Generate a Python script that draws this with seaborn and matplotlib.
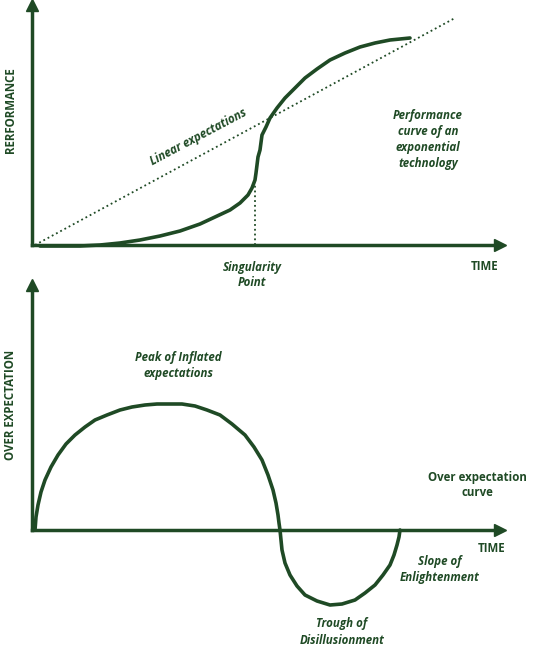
import matplotlib
matplotlib.use("Agg")
import matplotlib.pyplot as plt
import seaborn as sns
import pandas as pd

sns.set_style("white")
plt.rcParams['font.family'] = ['Open Sans', 'DejaVu Sans']

GREEN = "#1f4a25"

# top panel: performance curve, x from y-axis, y above x-axis (pixel units)
perf_x = [8, 28, 48, 68, 88, 108, 128, 148, 168, 183, 198, 208, 216, 220, 223, 224,
          225, 226, 228, 230, 234, 238, 245, 253, 263, 273, 285, 298, 313, 328, 343,
          358, 368, 378]
perf_y = [-1, -1, -1, 0, 2, 5, 9, 14, 21, 28, 35, 42, 50, 57, 65, 72, 80, 88, 95,
          110, 118, 127, 137, 147, 157, 167, 176, 185, 192, 198, 202, 205, 206, 207]
linear_x = [3, 423]
linear_y = [0, 227]
sing_x = [223, 223]
sing_y = [0, 60]

# bottom panel: over expectation curve
over_x = [3, 4, 6, 9, 13, 19, 26, 34, 43, 53, 63, 75, 88, 100, 113, 125, 138, 150,
          163, 175, 188, 200, 213, 222, 230, 236, 241, 244, 246, 247, 248,
          249, 250, 253, 258, 265, 273, 285, 298, 310, 323, 333, 343, 351, 358, 362,
          365, 367, 368]
over_y = [0, 13, 25, 38, 50, 63, 75, 86, 95, 103, 110, 115, 120, 123, 125, 126, 126,
          126, 124, 120, 115, 106, 95, 83, 70, 55, 40, 27, 15, 7, 0,
          -10, -20, -33, -45, -56, -65, -71, -75, -74, -70, -63, -55, -45, -35, -25,
          -15, -7, 0]

fig = plt.figure(figsize=(5.39, 6.48), dpi=100)
ax1 = fig.add_axes([32/539, (648-245)/648, 468/539, 240/648])
ax2 = fig.add_axes([32/539, (648-530)/648, 468/539, 245/648])

for ax in (ax1, ax2):
    ax.set_xlim(0, 468)
    ax.set_xticks([])
    ax.set_yticks([])
    for s in ("top", "right"):
        ax.spines[s].set_visible(False)
    for s in ("left", "bottom"):
        ax.spines[s].set_color(GREEN)
        ax.spines[s].set_linewidth(2.5)
    ax.plot(1, 0, ">", color=GREEN, ms=9, transform=ax.transAxes, clip_on=False)
    ax.plot(0, 1, "^", color=GREEN, ms=9, transform=ax.transAxes, clip_on=False)
ax1.set_ylim(0, 240)
ax2.set_ylim(0, 245)

perf = pd.DataFrame({"x": perf_x, "y": perf_y})
sns.lineplot(data=perf, x="x", y="y", sort=False, color=GREEN, lw=2.6, ax=ax1,
             solid_joinstyle="round", solid_capstyle="round")
ax1.plot(linear_x, linear_y, ":", color=GREEN, lw=1.3)
ax1.plot(sing_x, sing_y, ":", color=GREEN, lw=1.3)
over = pd.DataFrame({"x": over_x, "y": over_y})
sns.lineplot(data=over, x="x", y="y", sort=False, color=GREEN, lw=2.6, ax=ax2,
             solid_joinstyle="round", solid_capstyle="round")
for line in ax1.lines + ax2.lines:
    line.set_clip_on(False)
ax1.set_xlabel(""); ax1.set_ylabel("")
ax2.set_xlabel(""); ax2.set_ylabel("")

kw = dict(color=GREEN, fontsize=8.3, fontweight="bold", ha="center", va="center",
          transform=fig.transFigure)

def t(px, py, s, **k):
    fig.text(px/539, 1 - py/648, s, **{**kw, **k})

t(11, 110, "RERFORMANCE", rotation=90)
t(485, 266, "TIME")
t(198, 137, "Linear expectations", rotation=28, style="italic")
t(428, 140, "Performance\ncurve of an\nexponential\ntechnology", style="italic", linespacing=1.3)
t(252, 275, "Singularity\nPoint", style="italic", linespacing=1.3)
t(11, 405, "OVER EXPECTATION", rotation=90)
t(178, 366, "Peak of Inflated\nexpectations", style="italic", linespacing=1.3)
t(477, 485, "Over expectation\ncurve", linespacing=1.3)
t(492, 549, "TIME")
t(440, 569, "Slope of\nEnlightenment", style="italic", linespacing=1.3)
t(342, 632, "Trough of\nDisillusionment", style="italic", linespacing=1.3)

fig.savefig("out.png", dpi=100)
